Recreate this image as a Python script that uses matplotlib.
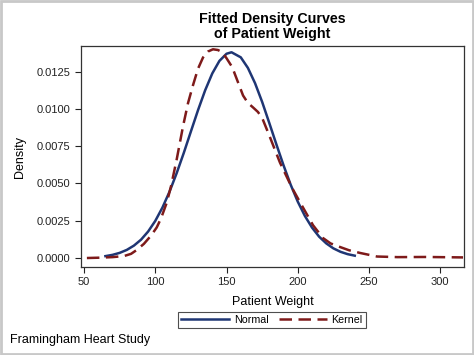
import matplotlib
matplotlib.use("Agg")
import matplotlib.pyplot as plt
from matplotlib.patches import Rectangle

# values
normal_x = [65, 70, 75, 80, 85, 90, 95, 100, 105, 110, 115, 120, 125, 130, 135, 140,
            145, 150, 153.5, 160, 165, 170, 175, 180, 185, 190, 195, 200, 205, 210,
            215, 220, 225, 230, 235, 240]
normal_y = [0.000127, 0.000212, 0.000345, 0.000544, 0.000832, 0.00123, 0.00178, 0.00249,
            0.00338, 0.00445, 0.00569, 0.00705, 0.00849, 0.00992, 0.01125, 0.01238,
            0.01322, 0.01370, 0.01380, 0.01346, 0.01275, 0.01173, 0.01047, 0.00906,
            0.00762, 0.00622, 0.00492, 0.00378, 0.00282, 0.00204, 0.00143, 0.00098,
            0.000647, 0.000416, 0.000259, 0.000157]

kernel_x = [52, 60, 70, 78, 83, 87, 92, 97, 101, 104, 108, 111, 115, 119.5, 123, 126.5,
            130, 133.5, 137, 140.5, 144, 147, 150, 154, 158, 161.6, 165, 168.6, 172, 175,
            180.5, 187.5, 192, 196, 203, 210.7, 217.7, 223, 229.6, 236, 243.7, 255.6,
            270, 290, 316]
kernel_y = [0.0, 0.00002, 0.00006, 0.00013, 0.00028, 0.00054, 0.00095, 0.0015, 0.00205,
            0.00265, 0.0037, 0.0048, 0.0066, 0.00885, 0.0104, 0.0116, 0.0127, 0.01345,
            0.01385, 0.0140, 0.01395, 0.0138, 0.0134, 0.0128, 0.0118, 0.0109, 0.0104,
            0.0101, 0.0098, 0.0094, 0.0081, 0.0064, 0.0055, 0.0047, 0.0035, 0.0022,
            0.00134, 0.00098, 0.00074, 0.00052, 0.00034, 0.00010, 0.00006, 0.00007,
            0.00004]

x_ticks = [50, 100, 150, 200, 250, 300]
y_ticks = [0.0, 0.0025, 0.0050, 0.0075, 0.0100, 0.0125]
y_tick_labels = ["0.0000", "0.0025", "0.0050", "0.0075", "0.0100", "0.0125"]

plt.rcParams["font.family"] = ["Liberation Sans", "DejaVu Sans"]

fig = plt.figure(figsize=(4.74, 3.55), dpi=100)
ax = fig.add_axes([0.171, 0.248, 0.808, 0.622])

ax.plot(normal_x, normal_y, color="#1f3674", lw=1.8, label="Normal")
ax.plot(kernel_x, kernel_y, color="#7e1a1a", lw=1.8, dashes=(5, 2.6), label="Kernel")

ax.set_xlim(47.9, 316.7)
ax.set_ylim(-0.0006, 0.01421)
ax.set_xticks(x_ticks)
ax.set_yticks(y_ticks)
ax.set_yticklabels(y_tick_labels)
ax.tick_params(direction="out", length=4, width=0.8, labelsize=8, colors="#222222")
for s in ax.spines.values():
    s.set_color("#333333")
    s.set_linewidth(0.9)

ax.set_xlabel("Patient Weight", fontsize=9, labelpad=6)
ax.set_ylabel("Density", fontsize=9, labelpad=8)
ax.set_title("Fitted Density Curves\nof Patient Weight", fontsize=10.3, fontweight="bold",
             linespacing=1.1, pad=6)

leg = fig.legend(loc="center", bbox_to_anchor=(0.574, 0.099), ncol=2, fontsize=7.7,
                 frameon=True, fancybox=False, handlelength=4.5, columnspacing=1.0,
                 borderpad=0.3, handletextpad=0.4)
leg.get_frame().set_edgecolor("#222222")
leg.get_frame().set_linewidth(0.8)

fig.text(0.021, 0.042, "Framingham Heart Study", fontsize=9, ha="left", va="center")

fig.patches.append(Rectangle((0.002, 0.003), 0.996, 0.994, transform=fig.transFigure,
                             fill=False, edgecolor="#c8c8c8", lw=2))

fig.savefig("out.png", dpi=100)
